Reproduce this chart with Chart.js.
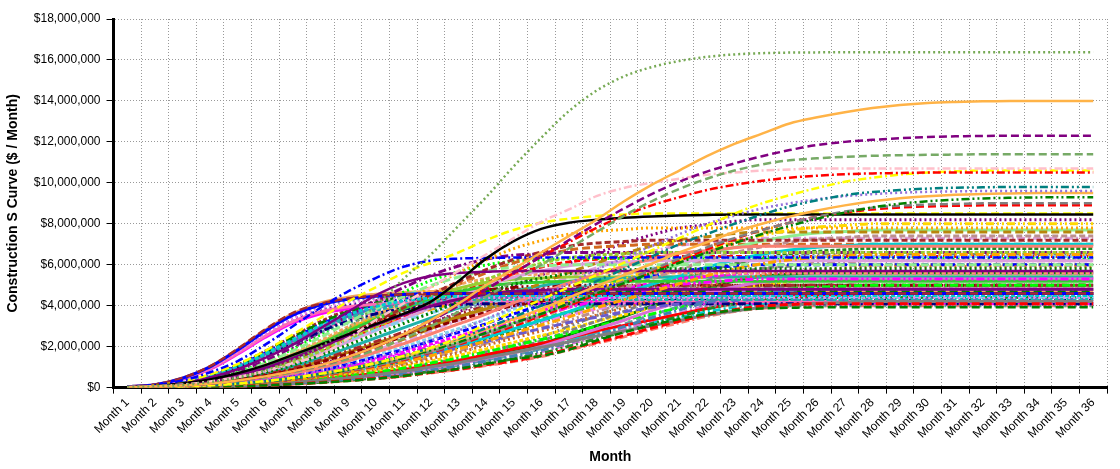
<!DOCTYPE html>
<html>
<head>
<meta charset="utf-8">
<title>Construction S Curve</title>
<script src="https://cdn.jsdelivr.net/npm/chart.js@4.4.0/dist/chart.umd.min.js"></script>
<style>
  html, body { margin: 0; padding: 0; background: #fff; }
  #wrap { width: 1120px; height: 469px; }
</style>
</head>
<body>
<div id="wrap"><canvas id="sCurveChart" width="1120" height="469"></canvas></div>
<script>
const months = ['Month 1', 'Month 2', 'Month 3', 'Month 4', 'Month 5', 'Month 6', 'Month 7', 'Month 8', 'Month 9',
  'Month 10', 'Month 11', 'Month 12', 'Month 13', 'Month 14', 'Month 15', 'Month 16', 'Month 17', 'Month 18',
  'Month 19', 'Month 20', 'Month 21', 'Month 22', 'Month 23', 'Month 24', 'Month 25', 'Month 26', 'Month 27',
  'Month 28', 'Month 29', 'Month 30', 'Month 31', 'Month 32', 'Month 33', 'Month 34', 'Month 35', 'Month 36'];

// cumulative cost, $ millions
const topGreen = [0.03,0.06,0.13,0.27,0.5,0.85,1.35,2.0,2.9,4.0,5.3,6.5,7.9,9.3,10.8,12.2,13.5,14.5,15.2,15.65,15.95,16.15,16.27,16.33,16.36,16.37,16.38,16.38,16.38,16.38,16.38,16.38,16.38,16.38,16.38,16.38];
const orangeBig = [0.02,0.05,0.1,0.2,0.35,0.55,0.8,1.1,1.5,2.0,2.6,3.3,4.1,5.0,5.8,6.6,7.4,8.2,9.1,9.9,10.6,11.3,11.9,12.4,12.9,13.2,13.45,13.65,13.8,13.9,13.95,13.98,14.0,14.0,14.0,14.0];
const purpleDash = [0.02,0.05,0.1,0.2,0.35,0.55,0.8,1.1,1.5,2.0,2.6,3.25,4.0,4.8,5.6,6.4,7.2,8.0,8.75,9.45,10.05,10.55,10.95,11.3,11.6,11.85,12.0,12.1,12.18,12.24,12.27,12.29,12.3,12.3,12.3,12.3];
const greenDash = [0.02,0.05,0.1,0.2,0.33,0.5,0.75,1.05,1.4,1.85,2.4,3.0,3.7,4.45,5.2,6.0,6.8,7.6,8.4,9.1,9.7,10.2,10.6,10.9,11.1,11.2,11.27,11.32,11.35,11.37,11.38,11.4,11.4,11.4,11.4,11.4];
const pinkDashDot = [0.03,0.07,0.15,0.3,0.52,0.82,1.2,1.6,2.4,3.3,4.1,4.9,5.7,6.5,7.3,8.1,8.7,9.35,9.75,10.0,10.2,10.4,10.5,10.6,10.65,10.7,10.7,10.7,10.7,10.7,10.7,10.7,10.7,10.7,10.7,10.7];
const redDashDot = [0.02,0.05,0.1,0.2,0.35,0.55,0.8,1.1,1.5,2.0,2.6,3.3,4.0,4.8,5.6,6.4,7.1,7.8,8.4,8.9,9.3,9.65,9.9,10.1,10.25,10.35,10.42,10.46,10.48,10.5,10.5,10.5,10.5,10.5,10.5,10.5];
const yellowDashDot = [0.01,0.03,0.06,0.12,0.2,0.32,0.48,0.68,0.92,1.2,1.55,1.95,2.45,3.1,3.7,4.3,4.9,5.5,6.1,6.7,7.3,7.9,8.5,9.0,9.4,9.75,10.05,10.25,10.4,10.5,10.56,10.6,10.6,10.6,10.6,10.6];
const tealDashDot = [0.01,0.03,0.06,0.12,0.2,0.32,0.48,0.68,0.92,1.2,1.55,1.95,2.4,2.9,3.45,4.0,4.6,5.2,5.8,6.4,7.0,7.5,8.0,8.45,8.85,9.15,9.4,9.55,9.65,9.72,9.76,9.78,9.8,9.8,9.8,9.8];
const lavenderDot = [0.02,0.04,0.08,0.14,0.24,0.38,0.58,0.82,1.1,1.44,1.82,2.3,2.78,3.36,3.94,4.51,5.09,5.76,6.34,6.91,7.49,8.0,8.4,8.75,9.0,9.2,9.35,9.45,9.52,9.56,9.58,9.6,9.6,9.6,9.6,9.6];
const orangeMid = [0.01,0.03,0.06,0.12,0.2,0.32,0.48,0.68,0.92,1.2,1.52,1.92,2.35,2.85,3.35,3.85,4.4,4.95,5.5,6.05,6.6,7.1,7.6,8.0,8.35,8.65,8.9,9.1,9.25,9.35,9.42,9.46,9.48,9.5,9.5,9.5];
const greenDashDot = [0.01,0.03,0.06,0.11,0.19,0.3,0.45,0.64,0.87,1.14,1.45,1.83,2.22,2.68,3.15,3.6,4.1,4.6,5.1,5.6,6.1,6.6,7.05,7.5,7.9,8.25,8.55,8.8,8.98,9.1,9.18,9.24,9.27,9.29,9.3,9.3];
const greyDash = [0.01,0.03,0.06,0.11,0.18,0.28,0.43,0.6,0.82,1.08,1.38,1.75,2.15,2.62,3.1,3.6,4.1,4.65,5.2,5.75,6.3,6.85,7.3,7.7,8.05,8.35,8.6,8.78,8.88,8.94,8.97,9.0,9.0,9.0,9.0,9.0];
const redDash = [0.01,0.03,0.05,0.1,0.17,0.27,0.41,0.58,0.8,1.05,1.35,1.72,2.1,2.55,3.0,3.5,4.0,4.55,5.1,5.65,6.2,6.75,7.25,7.7,8.05,8.35,8.55,8.7,8.8,8.85,8.88,8.9,8.9,8.9,8.9,8.9];
const blackSolid = [0.03,0.08,0.2,0.4,0.7,1.1,1.6,2.1,2.6,3.1,3.6,4.2,5.2,6.3,7.15,7.75,8.05,8.2,8.3,8.36,8.4,8.43,8.45,8.45,8.45,8.45,8.45,8.45,8.45,8.45,8.45,8.45,8.45,8.45,8.45,8.45];
const blueDashDot = [0.05,0.12,0.35,0.75,1.3,2.1,3.0,3.9,4.7,5.35,5.9,6.2,6.3,6.33,6.35,6.35,6.35,6.35,6.35,6.35,6.35,6.35,6.35,6.35,6.35,6.35,6.35,6.35,6.35,6.35,6.35,6.35,6.35,6.35,6.35,6.35];
const yellowDash = [0.04,0.1,0.3,0.65,1.15,1.8,2.6,3.4,4.2,4.9,5.6,6.1,6.6,7.2,7.7,8.05,8.25,8.38,8.45,8.5,8.5,8.5,8.5,8.5,8.5,8.5,8.5,8.5,8.5,8.5,8.5,8.5,8.5,8.5,8.5,8.5];
const purpleSolid = [0.03,0.08,0.22,0.5,0.9,1.45,2.1,2.9,3.7,4.5,5.1,5.45,5.6,5.66,5.7,5.7,5.7,5.7,5.7,5.7,5.7,5.7,5.7,5.7,5.7,5.7,5.7,5.7,5.7,5.7,5.7,5.7,5.7,5.7,5.7,5.7];
const brownDash = [0.05,0.15,0.48,1.05,1.9,2.85,3.65,4.1,4.35,4.48,4.55,4.58,4.6,4.6,4.6,4.6,4.6,4.6,4.6,4.6,4.6,4.6,4.6,4.6,4.6,4.6,4.6,4.6,4.6,4.6,4.6,4.6,4.6,4.6,4.6,4.6];
const bottomGreen = [0.0,0.01,0.02,0.04,0.07,0.11,0.17,0.24,0.33,0.43,0.57,0.75,0.92,1.15,1.4,1.55,1.85,2.3,2.7,3.05,3.35,3.6,3.78,3.87,3.9,3.92,3.92,3.92,3.92,3.92,3.92,3.92,3.92,3.92,3.92,3.92];

// the rest of the project curves
const early46 = [0.05,0.14,0.46,1.01,1.84,2.76,3.54,4.05,4.32,4.46,4.55,4.6,4.6,4.6,4.6,4.6,4.6,4.6,4.6,4.6,4.6,4.6,4.6,4.6,4.6,4.6,4.6,4.6,4.6,4.6,4.6,4.6,4.6,4.6,4.6,4.6];
const early44 = [0.04,0.13,0.44,0.97,1.76,2.64,3.39,3.87,4.14,4.27,4.36,4.4,4.4,4.4,4.4,4.4,4.4,4.4,4.4,4.4,4.4,4.4,4.4,4.4,4.4,4.4,4.4,4.4,4.4,4.4,4.4,4.4,4.4,4.4,4.4,4.4];
const early42 = [0.04,0.13,0.42,0.92,1.68,2.52,3.23,3.7,3.95,4.07,4.16,4.2,4.2,4.2,4.2,4.2,4.2,4.2,4.2,4.2,4.2,4.2,4.2,4.2,4.2,4.2,4.2,4.2,4.2,4.2,4.2,4.2,4.2,4.2,4.2,4.2];
const early45 = [0.05,0.14,0.45,0.99,1.8,2.7,3.47,3.96,4.23,4.37,4.46,4.5,4.5,4.5,4.5,4.5,4.5,4.5,4.5,4.5,4.5,4.5,4.5,4.5,4.5,4.5,4.5,4.5,4.5,4.5,4.5,4.5,4.5,4.5,4.5,4.5];
const early43 = [0.04,0.13,0.43,0.95,1.72,2.58,3.31,3.78,4.04,4.17,4.26,4.3,4.3,4.3,4.3,4.3,4.3,4.3,4.3,4.3,4.3,4.3,4.3,4.3,4.3,4.3,4.3,4.3,4.3,4.3,4.3,4.3,4.3,4.3,4.3,4.3];
const early47 = [0.05,0.14,0.47,1.03,1.88,2.82,3.62,4.14,4.42,4.56,4.65,4.7,4.7,4.7,4.7,4.7,4.7,4.7,4.7,4.7,4.7,4.7,4.7,4.7,4.7,4.7,4.7,4.7,4.7,4.7,4.7,4.7,4.7,4.7,4.7,4.7];
const early41 = [0.04,0.12,0.41,0.9,1.64,2.46,3.16,3.61,3.85,3.98,4.06,4.1,4.1,4.1,4.1,4.1,4.1,4.1,4.1,4.1,4.1,4.1,4.1,4.1,4.1,4.1,4.1,4.1,4.1,4.1,4.1,4.1,4.1,4.1,4.1,4.1];
const mid45 = [0.05,0.09,0.23,0.54,1.04,1.67,2.34,3.02,3.56,3.96,4.23,4.37,4.46,4.5,4.5,4.5,4.5,4.5,4.5,4.5,4.5,4.5,4.5,4.5,4.5,4.5,4.5,4.5,4.5,4.5,4.5,4.5,4.5,4.5,4.5,4.5];
const mid43 = [0.04,0.09,0.22,0.52,0.99,1.59,2.24,2.88,3.4,3.78,4.04,4.17,4.26,4.3,4.3,4.3,4.3,4.3,4.3,4.3,4.3,4.3,4.3,4.3,4.3,4.3,4.3,4.3,4.3,4.3,4.3,4.3,4.3,4.3,4.3,4.3];
const mid41 = [0.04,0.08,0.21,0.49,0.94,1.52,2.13,2.75,3.24,3.61,3.85,3.98,4.06,4.1,4.1,4.1,4.1,4.1,4.1,4.1,4.1,4.1,4.1,4.1,4.1,4.1,4.1,4.1,4.1,4.1,4.1,4.1,4.1,4.1,4.1,4.1];
const mid40 = [0.04,0.08,0.2,0.48,0.92,1.48,2.08,2.68,3.16,3.52,3.76,3.88,3.96,4.0,4.0,4.0,4.0,4.0,4.0,4.0,4.0,4.0,4.0,4.0,4.0,4.0,4.0,4.0,4.0,4.0,4.0,4.0,4.0,4.0,4.0,4.0];
const mid47 = [0.05,0.09,0.24,0.56,1.08,1.74,2.44,3.15,3.71,4.14,4.42,4.56,4.65,4.7,4.7,4.7,4.7,4.7,4.7,4.7,4.7,4.7,4.7,4.7,4.7,4.7,4.7,4.7,4.7,4.7,4.7,4.7,4.7,4.7,4.7,4.7];
const mid44 = [0.04,0.09,0.22,0.53,1.01,1.63,2.29,2.95,3.48,3.87,4.14,4.27,4.36,4.4,4.4,4.4,4.4,4.4,4.4,4.4,4.4,4.4,4.4,4.4,4.4,4.4,4.4,4.4,4.4,4.4,4.4,4.4,4.4,4.4,4.4,4.4];
const mid42 = [0.04,0.08,0.21,0.5,0.97,1.55,2.18,2.81,3.32,3.7,3.95,4.07,4.16,4.2,4.2,4.2,4.2,4.2,4.2,4.2,4.2,4.2,4.2,4.2,4.2,4.2,4.2,4.2,4.2,4.2,4.2,4.2,4.2,4.2,4.2,4.2];
const mid46 = [0.05,0.09,0.23,0.55,1.06,1.7,2.39,3.08,3.63,4.05,4.32,4.46,4.55,4.6,4.6,4.6,4.6,4.6,4.6,4.6,4.6,4.6,4.6,4.6,4.6,4.6,4.6,4.6,4.6,4.6,4.6,4.6,4.6,4.6,4.6,4.6];
const mid48 = [0.05,0.1,0.24,0.58,1.1,1.78,2.5,3.22,3.79,4.22,4.51,4.66,4.75,4.8,4.8,4.8,4.8,4.8,4.8,4.8,4.8,4.8,4.8,4.8,4.8,4.8,4.8,4.8,4.8,4.8,4.8,4.8,4.8,4.8,4.8,4.8];
const std48 = [0.02,0.05,0.14,0.29,0.58,0.96,1.44,1.97,2.54,3.07,3.55,3.98,4.32,4.56,4.7,4.75,4.8,4.8,4.8,4.8,4.8,4.8,4.8,4.8,4.8,4.8,4.8,4.8,4.8,4.8,4.8,4.8,4.8,4.8,4.8,4.8];
const std52 = [0.03,0.05,0.16,0.31,0.62,1.04,1.56,2.13,2.76,3.33,3.85,4.32,4.68,4.94,5.1,5.15,5.2,5.2,5.2,5.2,5.2,5.2,5.2,5.2,5.2,5.2,5.2,5.2,5.2,5.2,5.2,5.2,5.2,5.2,5.2,5.2];
const std44 = [0.02,0.04,0.13,0.26,0.53,0.88,1.32,1.8,2.33,2.82,3.26,3.65,3.96,4.18,4.31,4.36,4.4,4.4,4.4,4.4,4.4,4.4,4.4,4.4,4.4,4.4,4.4,4.4,4.4,4.4,4.4,4.4,4.4,4.4,4.4,4.4];
const std60 = [0.03,0.06,0.18,0.36,0.72,1.2,1.8,2.46,3.18,3.84,4.44,4.98,5.4,5.7,5.88,5.94,6.0,6.0,6.0,6.0,6.0,6.0,6.0,6.0,6.0,6.0,6.0,6.0,6.0,6.0,6.0,6.0,6.0,6.0,6.0,6.0];
const std56 = [0.03,0.06,0.17,0.34,0.67,1.12,1.68,2.3,2.97,3.58,4.14,4.65,5.04,5.32,5.49,5.54,5.6,5.6,5.6,5.6,5.6,5.6,5.6,5.6,5.6,5.6,5.6,5.6,5.6,5.6,5.6,5.6,5.6,5.6,5.6,5.6];
const std66 = [0.03,0.07,0.2,0.4,0.79,1.32,1.98,2.71,3.5,4.22,4.88,5.48,5.94,6.27,6.47,6.53,6.6,6.6,6.6,6.6,6.6,6.6,6.6,6.6,6.6,6.6,6.6,6.6,6.6,6.6,6.6,6.6,6.6,6.6,6.6,6.6];
const std50 = [0.03,0.05,0.15,0.3,0.6,1.0,1.5,2.05,2.65,3.2,3.7,4.15,4.5,4.75,4.9,4.95,5.0,5.0,5.0,5.0,5.0,5.0,5.0,5.0,5.0,5.0,5.0,5.0,5.0,5.0,5.0,5.0,5.0,5.0,5.0,5.0];
const std54 = [0.03,0.05,0.16,0.32,0.65,1.08,1.62,2.21,2.86,3.46,4.0,4.48,4.86,5.13,5.29,5.35,5.4,5.4,5.4,5.4,5.4,5.4,5.4,5.4,5.4,5.4,5.4,5.4,5.4,5.4,5.4,5.4,5.4,5.4,5.4,5.4];
const std63 = [0.03,0.06,0.19,0.38,0.76,1.26,1.89,2.58,3.34,4.03,4.66,5.23,5.67,5.99,6.17,6.24,6.3,6.3,6.3,6.3,6.3,6.3,6.3,6.3,6.3,6.3,6.3,6.3,6.3,6.3,6.3,6.3,6.3,6.3,6.3,6.3];
const std46 = [0.02,0.05,0.14,0.28,0.55,0.92,1.38,1.89,2.44,2.94,3.4,3.82,4.14,4.37,4.51,4.55,4.6,4.6,4.6,4.6,4.6,4.6,4.6,4.6,4.6,4.6,4.6,4.6,4.6,4.6,4.6,4.6,4.6,4.6,4.6,4.6];
const slow50 = [0.02,0.05,0.1,0.2,0.4,0.65,0.95,1.35,1.8,2.25,2.7,3.15,3.6,4.0,4.35,4.6,4.8,4.9,4.95,5.0,5.0,5.0,5.0,5.0,5.0,5.0,5.0,5.0,5.0,5.0,5.0,5.0,5.0,5.0,5.0,5.0];
const slow58 = [0.02,0.06,0.12,0.23,0.46,0.75,1.1,1.57,2.09,2.61,3.13,3.65,4.18,4.64,5.05,5.34,5.57,5.68,5.74,5.8,5.8,5.8,5.8,5.8,5.8,5.8,5.8,5.8,5.8,5.8,5.8,5.8,5.8,5.8,5.8,5.8];
const slow66 = [0.03,0.07,0.13,0.26,0.53,0.86,1.25,1.78,2.38,2.97,3.56,4.16,4.75,5.28,5.74,6.07,6.34,6.47,6.53,6.6,6.6,6.6,6.6,6.6,6.6,6.6,6.6,6.6,6.6,6.6,6.6,6.6,6.6,6.6,6.6,6.6];
const slow72 = [0.03,0.07,0.14,0.29,0.58,0.94,1.37,1.94,2.59,3.24,3.89,4.54,5.18,5.76,6.26,6.62,6.91,7.06,7.13,7.2,7.2,7.2,7.2,7.2,7.2,7.2,7.2,7.2,7.2,7.2,7.2,7.2,7.2,7.2,7.2,7.2];
const slow46 = [0.02,0.05,0.09,0.18,0.37,0.6,0.87,1.24,1.66,2.07,2.48,2.9,3.31,3.68,4.0,4.23,4.42,4.51,4.55,4.6,4.6,4.6,4.6,4.6,4.6,4.6,4.6,4.6,4.6,4.6,4.6,4.6,4.6,4.6,4.6,4.6];
const slow62 = [0.02,0.06,0.12,0.25,0.5,0.81,1.18,1.67,2.23,2.79,3.35,3.91,4.46,4.96,5.39,5.7,5.95,6.08,6.14,6.2,6.2,6.2,6.2,6.2,6.2,6.2,6.2,6.2,6.2,6.2,6.2,6.2,6.2,6.2,6.2,6.2];
const slow78 = [0.03,0.08,0.16,0.31,0.62,1.01,1.48,2.11,2.81,3.51,4.21,4.91,5.62,6.24,6.79,7.18,7.49,7.64,7.72,7.8,7.8,7.8,7.8,7.8,7.8,7.8,7.8,7.8,7.8,7.8,7.8,7.8,7.8,7.8,7.8,7.8];
const slow54 = [0.02,0.05,0.11,0.22,0.43,0.7,1.03,1.46,1.94,2.43,2.92,3.4,3.89,4.32,4.7,4.97,5.18,5.29,5.35,5.4,5.4,5.4,5.4,5.4,5.4,5.4,5.4,5.4,5.4,5.4,5.4,5.4,5.4,5.4,5.4,5.4];
const slow70 = [0.03,0.07,0.14,0.28,0.56,0.91,1.33,1.89,2.52,3.15,3.78,4.41,5.04,5.6,6.09,6.44,6.72,6.86,6.93,7.0,7.0,7.0,7.0,7.0,7.0,7.0,7.0,7.0,7.0,7.0,7.0,7.0,7.0,7.0,7.0,7.0];
const slow48 = [0.02,0.05,0.1,0.19,0.38,0.62,0.91,1.3,1.73,2.16,2.59,3.02,3.46,3.84,4.18,4.42,4.61,4.7,4.75,4.8,4.8,4.8,4.8,4.8,4.8,4.8,4.8,4.8,4.8,4.8,4.8,4.8,4.8,4.8,4.8,4.8];
const slow64 = [0.03,0.06,0.13,0.26,0.51,0.83,1.22,1.73,2.3,2.88,3.46,4.03,4.61,5.12,5.57,5.89,6.14,6.27,6.34,6.4,6.4,6.4,6.4,6.4,6.4,6.4,6.4,6.4,6.4,6.4,6.4,6.4,6.4,6.4,6.4,6.4];
const late43 = [0.01,0.03,0.05,0.11,0.19,0.3,0.43,0.6,0.82,1.08,1.33,1.63,1.94,2.24,2.58,2.88,3.18,3.44,3.7,3.91,4.09,4.17,4.26,4.3,4.3,4.3,4.3,4.3,4.3,4.3,4.3,4.3,4.3,4.3,4.3,4.3];
const late53 = [0.02,0.03,0.06,0.13,0.24,0.37,0.53,0.74,1.01,1.33,1.64,2.01,2.39,2.76,3.18,3.55,3.92,4.24,4.56,4.82,5.04,5.14,5.25,5.3,5.3,5.3,5.3,5.3,5.3,5.3,5.3,5.3,5.3,5.3,5.3,5.3];
const late60 = [0.02,0.04,0.07,0.15,0.27,0.42,0.6,0.84,1.14,1.5,1.86,2.28,2.7,3.12,3.6,4.02,4.44,4.8,5.16,5.46,5.7,5.82,5.94,6.0,6.0,6.0,6.0,6.0,6.0,6.0,6.0,6.0,6.0,6.0,6.0,6.0];
const late69 = [0.02,0.04,0.08,0.17,0.31,0.48,0.69,0.97,1.31,1.73,2.14,2.62,3.11,3.59,4.14,4.62,5.11,5.52,5.93,6.28,6.56,6.69,6.83,6.9,6.9,6.9,6.9,6.9,6.9,6.9,6.9,6.9,6.9,6.9,6.9,6.9];
const late76 = [0.02,0.05,0.09,0.19,0.34,0.53,0.76,1.06,1.44,1.9,2.36,2.89,3.42,3.95,4.56,5.09,5.62,6.08,6.54,6.92,7.22,7.37,7.52,7.6,7.6,7.6,7.6,7.6,7.6,7.6,7.6,7.6,7.6,7.6,7.6,7.6];
const late56 = [0.02,0.03,0.07,0.14,0.25,0.39,0.56,0.78,1.06,1.4,1.74,2.13,2.52,2.91,3.36,3.75,4.14,4.48,4.82,5.1,5.32,5.43,5.54,5.6,5.6,5.6,5.6,5.6,5.6,5.6,5.6,5.6,5.6,5.6,5.6,5.6];
const late48 = [0.01,0.03,0.06,0.12,0.22,0.34,0.48,0.67,0.91,1.2,1.49,1.82,2.16,2.5,2.88,3.22,3.55,3.84,4.13,4.37,4.56,4.66,4.75,4.8,4.8,4.8,4.8,4.8,4.8,4.8,4.8,4.8,4.8,4.8,4.8,4.8];
const late50 = [0.02,0.03,0.06,0.13,0.23,0.35,0.5,0.7,0.95,1.25,1.55,1.9,2.25,2.6,3.0,3.35,3.7,4.0,4.3,4.55,4.75,4.85,4.95,5.0,5.0,5.0,5.0,5.0,5.0,5.0,5.0,5.0,5.0,5.0,5.0,5.0];
const late64 = [0.02,0.04,0.08,0.16,0.29,0.45,0.64,0.9,1.22,1.6,1.98,2.43,2.88,3.33,3.84,4.29,4.74,5.12,5.5,5.82,6.08,6.21,6.34,6.4,6.4,6.4,6.4,6.4,6.4,6.4,6.4,6.4,6.4,6.4,6.4,6.4];
const late73 = [0.02,0.04,0.09,0.18,0.33,0.51,0.73,1.02,1.39,1.83,2.26,2.77,3.29,3.8,4.38,4.89,5.4,5.84,6.28,6.64,6.94,7.08,7.23,7.3,7.3,7.3,7.3,7.3,7.3,7.3,7.3,7.3,7.3,7.3,7.3,7.3];
const late82 = [0.02,0.05,0.1,0.21,0.37,0.57,0.82,1.15,1.56,2.05,2.54,3.12,3.69,4.26,4.92,5.49,6.07,6.56,7.05,7.46,7.79,7.95,8.12,8.2,8.2,8.2,8.2,8.2,8.2,8.2,8.2,8.2,8.2,8.2,8.2,8.2];
const later42 = [0.01,0.02,0.03,0.06,0.11,0.17,0.25,0.36,0.48,0.63,0.8,1.01,1.22,1.47,1.72,1.97,2.23,2.52,2.77,3.02,3.28,3.53,3.74,3.91,4.03,4.12,4.16,4.2,4.2,4.2,4.2,4.2,4.2,4.2,4.2,4.2];
const later50 = [0.01,0.02,0.04,0.08,0.13,0.2,0.3,0.43,0.58,0.75,0.95,1.2,1.45,1.75,2.05,2.35,2.65,3.0,3.3,3.6,3.9,4.2,4.45,4.65,4.8,4.9,4.95,5.0,5.0,5.0,5.0,5.0,5.0,5.0,5.0,5.0];
const later59 = [0.01,0.02,0.05,0.09,0.15,0.24,0.35,0.5,0.68,0.89,1.12,1.42,1.71,2.07,2.42,2.77,3.13,3.54,3.89,4.25,4.6,4.96,5.25,5.49,5.66,5.78,5.84,5.9,5.9,5.9,5.9,5.9,5.9,5.9,5.9,5.9];
const later65 = [0.01,0.03,0.05,0.1,0.16,0.26,0.39,0.55,0.75,0.98,1.24,1.56,1.89,2.28,2.67,3.06,3.45,3.9,4.29,4.68,5.07,5.46,5.79,6.05,6.24,6.37,6.44,6.5,6.5,6.5,6.5,6.5,6.5,6.5,6.5,6.5];
const later74 = [0.01,0.03,0.06,0.11,0.19,0.3,0.44,0.63,0.85,1.11,1.41,1.78,2.15,2.59,3.03,3.48,3.92,4.44,4.88,5.33,5.77,6.22,6.59,6.88,7.1,7.25,7.33,7.4,7.4,7.4,7.4,7.4,7.4,7.4,7.4,7.4];
const later46 = [0.01,0.02,0.04,0.07,0.12,0.18,0.28,0.39,0.53,0.69,0.87,1.1,1.33,1.61,1.89,2.16,2.44,2.76,3.04,3.31,3.59,3.86,4.09,4.28,4.42,4.51,4.55,4.6,4.6,4.6,4.6,4.6,4.6,4.6,4.6,4.6];
const later70 = [0.01,0.03,0.06,0.11,0.18,0.28,0.42,0.6,0.81,1.05,1.33,1.68,2.03,2.45,2.87,3.29,3.71,4.2,4.62,5.04,5.46,5.88,6.23,6.51,6.72,6.86,6.93,7.0,7.0,7.0,7.0,7.0,7.0,7.0,7.0,7.0];
const later80 = [0.02,0.03,0.06,0.12,0.2,0.32,0.48,0.68,0.92,1.2,1.52,1.92,2.32,2.8,3.28,3.76,4.24,4.8,5.28,5.76,6.24,6.72,7.12,7.44,7.68,7.84,7.92,8.0,8.0,8.0,8.0,8.0,8.0,8.0,8.0,8.0];
const later77 = [0.02,0.03,0.06,0.12,0.19,0.31,0.46,0.65,0.89,1.16,1.46,1.85,2.23,2.7,3.16,3.62,4.08,4.62,5.08,5.54,6.01,6.47,6.85,7.16,7.39,7.55,7.62,7.7,7.7,7.7,7.7,7.7,7.7,7.7,7.7,7.7];
const later54 = [0.01,0.02,0.04,0.08,0.14,0.22,0.32,0.46,0.62,0.81,1.03,1.3,1.57,1.89,2.21,2.54,2.86,3.24,3.56,3.89,4.21,4.54,4.81,5.02,5.18,5.29,5.35,5.4,5.4,5.4,5.4,5.4,5.4,5.4,5.4,5.4];
const later62 = [0.01,0.02,0.05,0.09,0.16,0.25,0.37,0.53,0.71,0.93,1.18,1.49,1.8,2.17,2.54,2.91,3.29,3.72,4.09,4.46,4.84,5.21,5.52,5.77,5.95,6.08,6.14,6.2,6.2,6.2,6.2,6.2,6.2,6.2,6.2,6.2];
const later68 = [0.01,0.03,0.05,0.1,0.17,0.27,0.41,0.58,0.78,1.02,1.29,1.63,1.97,2.38,2.79,3.2,3.6,4.08,4.49,4.9,5.3,5.71,6.05,6.32,6.53,6.66,6.73,6.8,6.8,6.8,6.8,6.8,6.8,6.8,6.8,6.8];
const later44 = [0.01,0.02,0.04,0.07,0.11,0.18,0.26,0.37,0.51,0.66,0.84,1.06,1.28,1.54,1.8,2.07,2.33,2.64,2.9,3.17,3.43,3.7,3.92,4.09,4.22,4.31,4.36,4.4,4.4,4.4,4.4,4.4,4.4,4.4,4.4,4.4];
const last41 = [0.0,0.01,0.02,0.04,0.07,0.11,0.18,0.25,0.35,0.45,0.57,0.74,0.9,1.11,1.31,1.56,1.89,2.21,2.54,2.91,3.24,3.57,3.81,3.98,4.06,4.1,4.1,4.1,4.1,4.1,4.1,4.1,4.1,4.1,4.1,4.1];
const last44 = [0.0,0.01,0.02,0.04,0.08,0.12,0.19,0.26,0.37,0.48,0.62,0.79,0.97,1.19,1.41,1.67,2.02,2.38,2.73,3.12,3.48,3.83,4.09,4.27,4.36,4.4,4.4,4.4,4.4,4.4,4.4,4.4,4.4,4.4,4.4,4.4];
const last48 = [0.0,0.01,0.02,0.05,0.09,0.13,0.21,0.29,0.41,0.53,0.67,0.86,1.06,1.3,1.54,1.82,2.21,2.59,2.98,3.41,3.79,4.18,4.46,4.66,4.75,4.8,4.8,4.8,4.8,4.8,4.8,4.8,4.8,4.8,4.8,4.8];
const last53 = [0.01,0.02,0.03,0.05,0.1,0.15,0.23,0.32,0.45,0.58,0.74,0.95,1.17,1.43,1.7,2.01,2.44,2.86,3.29,3.76,4.19,4.61,4.93,5.14,5.25,5.3,5.3,5.3,5.3,5.3,5.3,5.3,5.3,5.3,5.3,5.3];
const last60 = [0.01,0.02,0.03,0.06,0.11,0.17,0.26,0.36,0.51,0.66,0.84,1.08,1.32,1.62,1.92,2.28,2.76,3.24,3.72,4.26,4.74,5.22,5.58,5.82,5.94,6.0,6.0,6.0,6.0,6.0,6.0,6.0,6.0,6.0,6.0,6.0];
const last40 = [0.0,0.01,0.02,0.04,0.07,0.11,0.17,0.24,0.34,0.44,0.56,0.72,0.88,1.08,1.28,1.52,1.84,2.16,2.48,2.84,3.16,3.48,3.72,3.88,3.96,4.0,4.0,4.0,4.0,4.0,4.0,4.0,4.0,4.0,4.0,4.0];
const last46 = [0.0,0.01,0.02,0.05,0.08,0.13,0.2,0.28,0.39,0.51,0.64,0.83,1.01,1.24,1.47,1.75,2.12,2.48,2.85,3.27,3.63,4.0,4.28,4.46,4.55,4.6,4.6,4.6,4.6,4.6,4.6,4.6,4.6,4.6,4.6,4.6];
const last50 = [0.01,0.02,0.03,0.05,0.09,0.14,0.22,0.3,0.43,0.55,0.7,0.9,1.1,1.35,1.6,1.9,2.3,2.7,3.1,3.55,3.95,4.35,4.65,4.85,4.95,5.0,5.0,5.0,5.0,5.0,5.0,5.0,5.0,5.0,5.0,5.0];
const last56 = [0.01,0.02,0.03,0.06,0.1,0.16,0.24,0.34,0.48,0.62,0.78,1.01,1.23,1.51,1.79,2.13,2.58,3.02,3.47,3.98,4.42,4.87,5.21,5.43,5.54,5.6,5.6,5.6,5.6,5.6,5.6,5.6,5.6,5.6,5.6,5.6];
const last65 = [0.01,0.02,0.03,0.07,0.12,0.18,0.28,0.39,0.55,0.72,0.91,1.17,1.43,1.76,2.08,2.47,2.99,3.51,4.03,4.62,5.14,5.66,6.05,6.31,6.44,6.5,6.5,6.5,6.5,6.5,6.5,6.5,6.5,6.5,6.5,6.5];

const keySeries = [topGreen, orangeBig, purpleDash, greenDash, pinkDashDot, redDashDot, yellowDashDot, tealDashDot,
  lavenderDot, orangeMid, greenDashDot, greyDash, redDash, blackSolid, blueDashDot, yellowDash, purpleSolid,
  brownDash, bottomGreen];
const keyColors = ['#77aa55', '#ffb347', '#800080', '#77aa66', '#ffc0cb', '#ff0000', '#ffff00', '#008080',
  '#9370db', '#ffb347', '#008000', '#808080', '#ff0000', '#000000', '#0000ff', '#ffff00', '#800080',
  '#a52a2a', '#008000'];

const otherSeries = [early46, last41, slow58, later65, std48, mid45, late53, slow72, later42, std60,
  early44, last48, late69, mid43, later80, slow46, std52, late43, later59, mid41,
  last53, slow66, std44, later74, early42, late76, mid40, later50, slow62, std56,
  last44, late60, later46, mid47, slow78, std66, later70, late56, slow50, last60,
  later77, late48, early45, last40, slow54, later54, std50, late50, mid44, slow70,
  early43, last46, std54, late64, later62, mid42, slow48, last50, std63, late73,
  early47, later68, mid46, slow64, last56, std46, late82, later44, early41, mid48, last65];
const otherColors = ['#0000ff', '#ff0000', '#008000', '#ffa500', '#800080', '#00ced1', '#ff00ff', '#a52a2a',
  '#808080', '#90ee90', '#ee82ee', '#4682b4', '#fa8072', '#20b2aa', '#ffd700', '#8b0000', '#32cd32',
  '#6a5acd', '#d2691e', '#000080', '#da70d6', '#9acd32', '#87ceeb', '#bc8f8f', '#ff69b4', '#b8860b', '#5f9ea0',
  '#00ff00', '#dda0dd', '#f4a460', '#228b22'];

const DOT = [2, 3];
const DASH = [8, 4];
const DASHDOT = [8, 3, 2, 3];
const DASHDOTDOT = [8, 3, 2, 3, 2, 3];
const keyDashes = [DOT, [], DASH, DASH, DASHDOT, DASHDOT, DASHDOT, DASHDOTDOT,
  DOT, [], DASHDOTDOT, DASH, DASH, [], DASHDOT, DASH, [], DASH, DASH];
const otherDashes = [[], DASH, DOT, DASHDOT, [], [4, 2], DASHDOTDOT, [6, 3]];

const FONT = '"Liberation Sans", Arial, sans-serif';

const datasets = [];
keySeries.forEach((vals, i) => {
  datasets.push({
    label: 'Project ' + (i + 1),
    data: vals.map((v) => v * 1000000),
    borderColor: keyColors[i],
    borderDash: keyDashes[i],
    borderWidth: 2.5,
  });
});
otherSeries.forEach((vals, i) => {
  datasets.push({
    label: 'Project ' + (keySeries.length + i + 1),
    data: vals.map((v) => v * 1000000),
    borderColor: otherColors[i % otherColors.length],
    borderDash: otherDashes[i % otherDashes.length],
    borderWidth: 3,
  });
});

new Chart(document.getElementById('sCurveChart').getContext('2d'), {
  type: 'line',
  data: { labels: months, datasets: datasets },
  options: {
    responsive: false,
    animation: false,
    devicePixelRatio: 1,
    layout: { padding: { left: 1, right: 13, top: 19, bottom: 3 } },
    elements: {
      point: { radius: 0, hoverRadius: 0 },
      line: { fill: false, cubicInterpolationMode: 'monotone', borderCapStyle: 'butt' },
    },
    plugins: {
      legend: { display: false },
      tooltip: { enabled: false },
    },
    scales: {
      x: {
        type: 'category',
        offset: true,
        grid: { offset: true, color: '#999', lineWidth: 1, tickColor: '#000', tickLength: 6, tickBorderDash: [] },
        border: { display: true, color: '#000', width: 3, dash: [1, 2] },
        ticks: { color: '#000', font: { family: FONT, size: 12 }, minRotation: 45, maxRotation: 45, autoSkip: false, padding: 2 },
        title: { display: true, text: 'Month', color: '#000', font: { family: FONT, size: 14, weight: 'bold' }, padding: { top: 6, bottom: 0 } },
      },
      y: {
        min: 0,
        max: 18000000,
        grid: { color: '#999', lineWidth: 1, tickColor: '#000', tickLength: 7, tickBorderDash: [] },
        border: { display: true, color: '#000', width: 3, dash: [1, 2] },
        ticks: {
          stepSize: 2000000,
          color: '#000',
          padding: 6,
          font: { family: FONT, size: 12 },
          callback: (value) => '$' + Number(value).toLocaleString('en-US'),
        },
        title: { display: true, text: 'Construction S Curve ($ / Month)', color: '#000', font: { family: FONT, size: 14, weight: 'bold' }, padding: { top: 4, bottom: 6 } },
      },
    },
  },
});
</script>
</body>
</html>
